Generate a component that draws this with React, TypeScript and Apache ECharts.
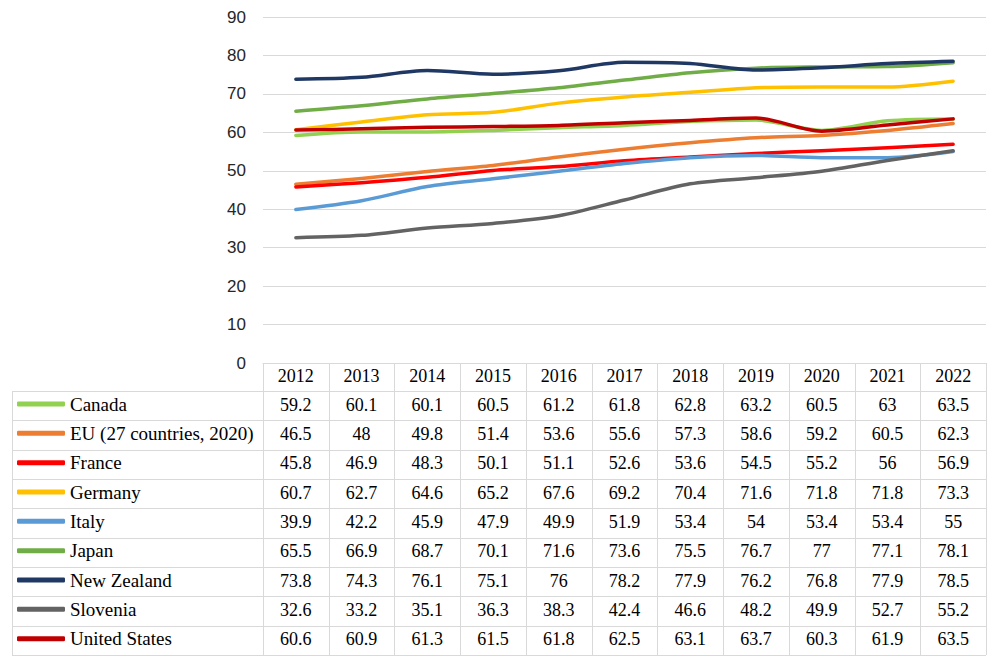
import React, { useEffect, useRef } from "react";
import * as echarts from "echarts";

const years = ["2012", "2013", "2014", "2015", "2016", "2017", "2018", "2019", "2020", "2021", "2022"];
const yTicks = { min: 0, max: 90, interval: 10 };

const countries = ["Canada", "EU (27 countries, 2020)", "France", "Germany", "Italy", "Japan", "New Zealand", "Slovenia", "United States"];
const colors = ["#92D050", "#ED7D31", "#FF0000", "#FFC000", "#5B9BD5", "#70AD47", "#203864", "#636363", "#C00000"];

const canada = [59.2, 60.1, 60.1, 60.5, 61.2, 61.8, 62.8, 63.2, 60.5, 63, 63.5];
const eu = [46.5, 48, 49.8, 51.4, 53.6, 55.6, 57.3, 58.6, 59.2, 60.5, 62.3];
const france = [45.8, 46.9, 48.3, 50.1, 51.1, 52.6, 53.6, 54.5, 55.2, 56, 56.9];
const germany = [60.7, 62.7, 64.6, 65.2, 67.6, 69.2, 70.4, 71.6, 71.8, 71.8, 73.3];
const italy = [39.9, 42.2, 45.9, 47.9, 49.9, 51.9, 53.4, 54, 53.4, 53.4, 55];
const japan = [65.5, 66.9, 68.7, 70.1, 71.6, 73.6, 75.5, 76.7, 77, 77.1, 78.1];
const newZealand = [73.8, 74.3, 76.1, 75.1, 76, 78.2, 77.9, 76.2, 76.8, 77.9, 78.5];
const slovenia = [32.6, 33.2, 35.1, 36.3, 38.3, 42.4, 46.6, 48.2, 49.9, 52.7, 55.2];
const unitedStates = [60.6, 60.9, 61.3, 61.5, 61.8, 62.5, 63.1, 63.7, 60.3, 61.9, 63.5];

const seriesValues = [canada, eu, france, germany, italy, japan, newZealand, slovenia, unitedStates];

const W = 1000;
const H = 669;
const GRID_L = 263;
const GRID_R = 986;
const GRID_T = 17;
const AXIS_Y = 363;
const TABLE_L = 12;
const ROWS_TOP = 391;
const TABLE_B = 655;
const SERIF = "Liberation Serif";
const SANS = "Liberation Sans";
const BORDER = "#d9d9d9";

export default function App() {
  const ref = useRef<HTMLDivElement>(null);

  useEffect(() => {
    if (!ref.current) return;
    const chart = echarts.init(ref.current, undefined, { renderer: "svg" });
    const colW = (GRID_R - GRID_L) / years.length;
    const rowH = (TABLE_B - ROWS_TOP) / countries.length;

    const graphics: any[] = [];
    for (let i = 0; i <= years.length; i++) {
      const x = Math.round(GRID_L + i * colW) + 0.5;
      graphics.push({
        type: "line",
        shape: { x1: x, y1: AXIS_Y, x2: x, y2: TABLE_B },
        style: { stroke: BORDER, lineWidth: 1 },
        silent: true,
      });
    }
    graphics.push({
      type: "line",
      shape: { x1: TABLE_L + 0.5, y1: ROWS_TOP, x2: TABLE_L + 0.5, y2: TABLE_B },
      style: { stroke: BORDER, lineWidth: 1 },
      silent: true,
    });
    for (let k = 0; k <= countries.length; k++) {
      const y = Math.round(ROWS_TOP + k * rowH) + 0.5;
      graphics.push({
        type: "line",
        shape: { x1: TABLE_L, y1: y, x2: GRID_R, y2: y },
        style: { stroke: BORDER, lineWidth: 1 },
        silent: true,
      });
    }
    seriesValues.forEach((vals, k) => {
      const cy = ROWS_TOP + (k + 0.5) * rowH - 1;
      vals.forEach((v, i) => {
        graphics.push({
          type: "text",
          x: GRID_L + (i + 0.5) * colW,
          y: cy,
          silent: true,
          style: {
            text: String(v),
            fill: "#000",
            font: `18px '${SERIF}', serif`,
            textAlign: "center",
            textVerticalAlign: "middle",
          },
        });
      });
    });

    chart.setOption({
      animation: false,
      backgroundColor: "#fff",
      grid: { left: GRID_L, right: W - GRID_R, top: GRID_T, bottom: H - AXIS_Y, containLabel: false },
      xAxis: {
        type: "category",
        data: years,
        boundaryGap: true,
        axisLine: { show: true, lineStyle: { color: BORDER, width: 1 } },
        axisTick: { show: false },
        axisLabel: {
          margin: 13,
          verticalAlign: "middle",
          color: "#000",
          fontSize: 18,
          fontFamily: SERIF,
        },
        splitLine: { show: false },
      },
      yAxis: {
        type: "value",
        min: yTicks.min,
        max: yTicks.max,
        interval: yTicks.interval,
        axisLine: { show: false },
        axisTick: { show: false },
        axisLabel: { margin: 17, color: "#262626", fontSize: 17, fontFamily: SANS },
        splitLine: { show: true, lineStyle: { color: BORDER, width: 1 } },
      },
      legend: {
        orient: "vertical",
        left: 17,
        top: 394,
        padding: 0,
        icon: "roundRect",
        itemWidth: 48,
        itemHeight: 5,
        itemGap: rowH - 20,
        textStyle: { fontSize: 19, fontFamily: SERIF, color: "#000", lineHeight: 20 },
        selectedMode: false,
        data: countries,
      },
      series: countries.map((name, k) => ({
        name,
        type: "line",
        data: seriesValues[k],
        smooth: 0.3,
        symbol: "none",
        lineStyle: { color: colors[k], width: 3.5, cap: "round", join: "round" },
        itemStyle: { color: colors[k] },
        z: 3 + k,
      })),
      graphic: graphics,
    });
    return () => chart.dispose();
  }, []);

  return <div ref={ref} style={{ position: "absolute", left: 0, top: 0, width: W, height: H }} />;
}
